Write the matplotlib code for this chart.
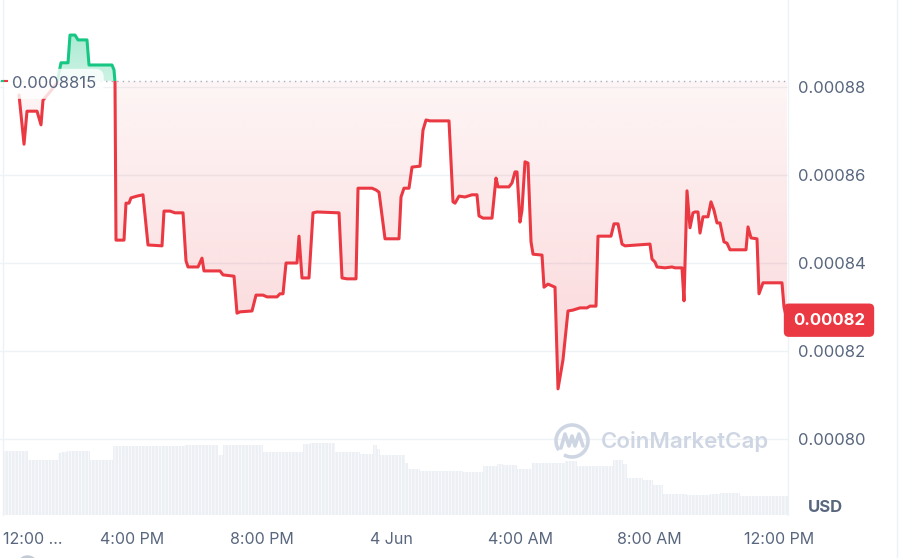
import numpy as np
import matplotlib
matplotlib.use("Agg")
import matplotlib.pyplot as plt
from matplotlib.patches import Rectangle, Circle, Arc, PathPatch
from matplotlib.path import Path
from matplotlib.colors import to_rgb

# ---------------- data ----------------
# time in hours since 12:00 PM, 3 Jun
hours = [0.495, 0.650, 0.742, 1.052, 1.175, 1.237, 1.454, 1.670, 1.794, 2.011,
         2.072, 2.227, 2.320, 2.598, 2.660, 3.371, 3.433, 3.464, 3.495, 3.743,
         3.804, 3.897, 3.959, 4.145, 4.330, 4.485, 4.918, 4.980, 5.165, 5.320,
         5.568, 5.660, 5.722, 6.032, 6.155, 6.217, 6.712, 6.805, 7.145, 7.238,
         7.331, 7.702, 7.826, 8.042, 8.166, 8.475, 8.568, 8.661, 8.754, 9.094,
         9.156, 9.248, 9.465, 9.589, 9.712, 10.393, 10.486, 10.640, 10.919, 10.981,
         11.414, 11.537, 11.630, 11.754, 11.816, 12.249, 12.311, 12.403, 12.558, 12.651,
         12.898, 12.991, 13.084, 13.208, 13.795, 13.919, 13.981, 14.105, 14.290, 14.507,
         14.661, 14.723, 14.847, 15.125, 15.249, 15.311, 15.651, 15.744, 15.837, 15.899,
         15.991, 16.053, 16.146, 16.239, 16.332, 16.394, 16.672, 16.734, 16.857, 17.074,
         17.167, 17.321, 17.476, 17.631, 17.847, 18.064, 18.157, 18.342, 18.404, 18.806,
         18.899, 19.023, 19.146, 19.239, 20.012, 20.074, 20.167, 20.229, 20.476, 20.693,
         20.786, 21.002, 21.064, 21.157, 21.250, 21.342, 21.404, 21.497, 21.559, 21.652,
         21.806, 21.899, 21.992, 22.085, 22.178, 22.301, 22.394, 22.487, 22.982, 23.044,
         23.137, 23.322, 23.384, 23.508, 24.095, 24.157, 24.250]
price = [0.0008782, 0.0008670, 0.0008745, 0.0008745, 0.0008714, 0.0008770, 0.0008789, 0.0008809, 0.0008855, 0.0008855,
         0.0008918, 0.0008918, 0.0008907, 0.0008907, 0.0008850, 0.0008850, 0.0008839, 0.0008811, 0.0008452, 0.0008452,
         0.0008536, 0.0008536, 0.0008548, 0.0008552, 0.0008555, 0.0008441, 0.0008439, 0.0008518, 0.0008518, 0.0008514,
         0.0008514, 0.0008405, 0.0008391, 0.0008391, 0.0008411, 0.0008382, 0.0008382, 0.0008373, 0.0008370, 0.0008286,
         0.0008289, 0.0008291, 0.0008327, 0.0008327, 0.0008323, 0.0008323, 0.0008330, 0.0008330, 0.0008400, 0.0008400,
         0.0008461, 0.0008366, 0.0008366, 0.0008514, 0.0008516, 0.0008514, 0.0008366, 0.0008364, 0.0008364, 0.0008570,
         0.0008570, 0.0008566, 0.0008561, 0.0008491, 0.0008455, 0.0008455, 0.0008550, 0.0008570, 0.0008570, 0.0008618,
         0.0008620, 0.0008702, 0.0008725, 0.0008723, 0.0008723, 0.0008539, 0.0008536, 0.0008552, 0.0008550, 0.0008555,
         0.0008555, 0.0008507, 0.0008502, 0.0008502, 0.0008593, 0.0008573, 0.0008573, 0.0008582, 0.0008607, 0.0008607,
         0.0008493, 0.0008520, 0.0008630, 0.0008627, 0.0008448, 0.0008420, 0.0008418, 0.0008345, 0.0008352, 0.0008345,
         0.0008114, 0.0008180, 0.0008291, 0.0008293, 0.0008298, 0.0008298, 0.0008302, 0.0008302, 0.0008461, 0.0008461,
         0.0008489, 0.0008489, 0.0008443, 0.0008439, 0.0008443, 0.0008409, 0.0008402, 0.0008391, 0.0008389, 0.0008391,
         0.0008389, 0.0008389, 0.0008314, 0.0008564, 0.0008480, 0.0008514, 0.0008516, 0.0008516, 0.0008468, 0.0008505,
         0.0008505, 0.0008539, 0.0008520, 0.0008491, 0.0008491, 0.0008448, 0.0008445, 0.0008430, 0.0008430, 0.0008482,
         0.0008457, 0.0008455, 0.0008330, 0.0008355, 0.0008355, 0.0008300, 0.0008270]
baseline = 0.0008814
baseline_label = "0.0008815"
last_label = "0.00082"

# volume (relative units), step segments in hours
vol_edges = [0.00, 0.77, 1.70, 1.79, 1.98, 2.69, 3.40, 5.63, 6.65, 6.80,
             8.04, 9.28, 9.50, 10.27, 11.04, 11.44, 11.57, 11.66, 12.43, 12.53,
             12.90, 14.23, 14.85, 15.28, 15.47, 15.90, 16.36, 17.38, 17.75, 18.87,
             19.18, 19.30, 19.80, 20.11, 20.41, 21.16, 21.87, 22.18, 22.80, 24.28]
vol_values = [64, 55, 62, 63, 64, 55, 69, 70, 60, 70,
              63, 71, 72, 63, 61, 70, 66, 60, 52, 46,
              44.5, 43, 49, 51, 50, 46, 52, 54, 49, 55,
              51, 37, 35, 30, 21, 20, 21, 22, 19]

y_ticks = [0.00080, 0.00082, 0.00084, 0.00086, 0.00088]
y_tick_labels = ["0.00080", "0.00082", "0.00084", "0.00086", "0.00088"]
x_ticks = [0, 4, 8, 12, 16, 20, 24]
x_tick_labels = ["12:00 ...", "4:00 PM", "8:00 PM", "4 Jun", "4:00 AM", "8:00 AM", "12:00 PM"]

# ---------------- style ----------------
RED = "#ea3943"
GREEN = "#16c784"
TXT = "#58667e"
GRID = "#eff2f5"
plt.rcParams["font.family"] = ["Inter", "DejaVu Sans"]
plt.rcParams["hatch.linewidth"] = 0.5

W, H = 900, 558
fig = plt.figure(figsize=(9, 5.58), dpi=100)
fig.patch.set_facecolor("white")

ax_left, ax_right, ax_top, ax_bot = 0, 788, 0, 515
pos = [ax_left / W, (H - ax_bot) / H, (ax_right - ax_left) / W, (ax_bot - ax_top) / H]
xmin, xmax = -0.093, 24.281
ymin, ymax = 0.00078273, 0.00089977

# volume axes
axv = fig.add_axes([pos[0], pos[1], pos[2], 100 / H])
axv.stairs(vol_values, vol_edges, fill=True, facecolor="#eceff3", edgecolor="white",
           hatch="|||||", lw=0, zorder=1)
axv.set_ylim(0, 100)
axv.set_xlim(xmin, xmax)
axv.axis("off")

ax = fig.add_axes(pos)
ax.set_facecolor("none")
ax.set_xlim(xmin, xmax)
ax.set_ylim(ymin, ymax)

x = np.array(hours)
y = np.array(price)


def grad_fill(ybound, lo, hi, color, a_lo, a_hi):
    poly = ax.fill_between(x, ybound, baseline, facecolor="none", edgecolor="none")
    cp = Path.make_compound_path(*poly.get_paths())
    patch = PathPatch(cp, transform=ax.transData, facecolor="none", edgecolor="none")
    ax.add_patch(patch)
    r, g, b = to_rgb(color)
    n = 256
    img = np.zeros((n, 1, 4))
    img[:, 0, 0] = r
    img[:, 0, 1] = g
    img[:, 0, 2] = b
    img[:, 0, 3] = np.linspace(a_lo, a_hi, n)
    im = ax.imshow(img, extent=[xmin, xmax, lo, hi], origin="lower", aspect="auto",
                   zorder=2, interpolation="bilinear")
    im.set_clip_path(patch)


# red area below baseline (more intense further down)
grad_fill(np.minimum(y, baseline), y.min(), baseline, RED, 0.21, 0.05)
# green area above baseline
grad_fill(np.maximum(y, baseline), baseline, y.max(), GREEN, 0.22, 0.36)

ax.set_xlim(xmin, xmax)
ax.set_ylim(ymin, ymax)

ax.set_yticks(y_ticks)
ax.set_yticklabels(y_tick_labels)
ax.grid(axis="y", color=GRID, lw=1.0, zorder=0)
ax.grid(axis="x", visible=False)

ax.axhline(baseline, color="#a6b0c3", lw=1.0, ls=(0, (1, 3)), zorder=3)

clip_low = Rectangle((xmin, ymin), xmax - xmin, baseline - ymin, transform=ax.transData,
                     facecolor="none", edgecolor="none")
clip_high = Rectangle((xmin, baseline), xmax - xmin, ymax - baseline, transform=ax.transData,
                      facecolor="none", edgecolor="none")
ax.add_patch(clip_low)
ax.add_patch(clip_high)
lr, = ax.plot(x, y, color=RED, lw=2.2, zorder=4, solid_joinstyle="round", solid_capstyle="round")
lr.set_clip_path(clip_low)
lg, = ax.plot(x, y, color=GREEN, lw=2.2, zorder=4, solid_joinstyle="round", solid_capstyle="round")
lg.set_clip_path(clip_high)

for s in ax.spines.values():
    s.set_visible(False)

ax.yaxis.tick_right()
ax.tick_params(axis="y", length=0, pad=7, labelsize=12, labelcolor=TXT)
ax.set_xticks(x_ticks)
ax.set_xticklabels(x_tick_labels)
ax.tick_params(axis="x", length=0, pad=12, labelsize=11.5, labelcolor=TXT)
ax.get_xticklabels()[0].set_horizontalalignment("left")

ax.annotate(baseline_label, xy=(xmin, baseline), xytext=(12, -3), textcoords="offset pixels",
            ha="left", va="center", fontsize=12, color=TXT, zorder=6,
            bbox=dict(boxstyle="round,pad=0.45,rounding_size=0.5", fc="white", ec="none", alpha=0.82))

ax.annotate(last_label, xy=(1.0, y[-1]), xycoords=("axes fraction", "data"),
            xytext=(41, 0), textcoords="offset pixels", ha="center", va="center",
            fontsize=12, color="white", fontweight="bold", annotation_clip=False, zorder=7,
            bbox=dict(boxstyle="round,pad=0.55,rounding_size=0.3", fc=RED, ec="none"))

# decorations (pixel coords)
ov = fig.add_axes([0, 0, 1, 1], zorder=-1)
ov.set_xlim(0, W)
ov.set_ylim(H, 0)
ov.axis("off")
ov.plot([3, 3], [0, 515], color=GRID, lw=1)
ov.plot([788, 788], [0, 515], color=GRID, lw=1)
ov.plot([897, 897], [0, 558], color=GRID, lw=1)

ov2 = fig.add_axes([0, 0, 1, 1], zorder=10)
ov2.set_xlim(0, W)
ov2.set_ylim(H, 0)
ov2.axis("off")
ov2.plot([2, 5], [81, 81], color=GREEN, lw=1.5)
ov2.plot([5, 7], [81, 81], color=RED, lw=1.5)
ov2.text(825, 508, "USD", ha="center", va="center", fontsize=12, fontweight="bold", color=TXT)
WM = "#cfd6e3"
ov2.add_patch(Arc((572, 441), 32, 32, theta1=-215, theta2=120, lw=2.6, color=WM))
ov2.plot([561, 565, 569, 572, 575, 579, 583], [448, 434, 446, 436, 446, 434, 446], color=WM, lw=2.6,
         solid_joinstyle="round", solid_capstyle="round")
ov2.text(601, 442, "CoinMarketCap", ha="left", va="center", fontsize=16, fontweight="semibold", color=WM)
ov2.add_patch(Circle((27.5, 566), 10, color="#c3cad6"))

fig.savefig("out.png", dpi=100, facecolor="white")
